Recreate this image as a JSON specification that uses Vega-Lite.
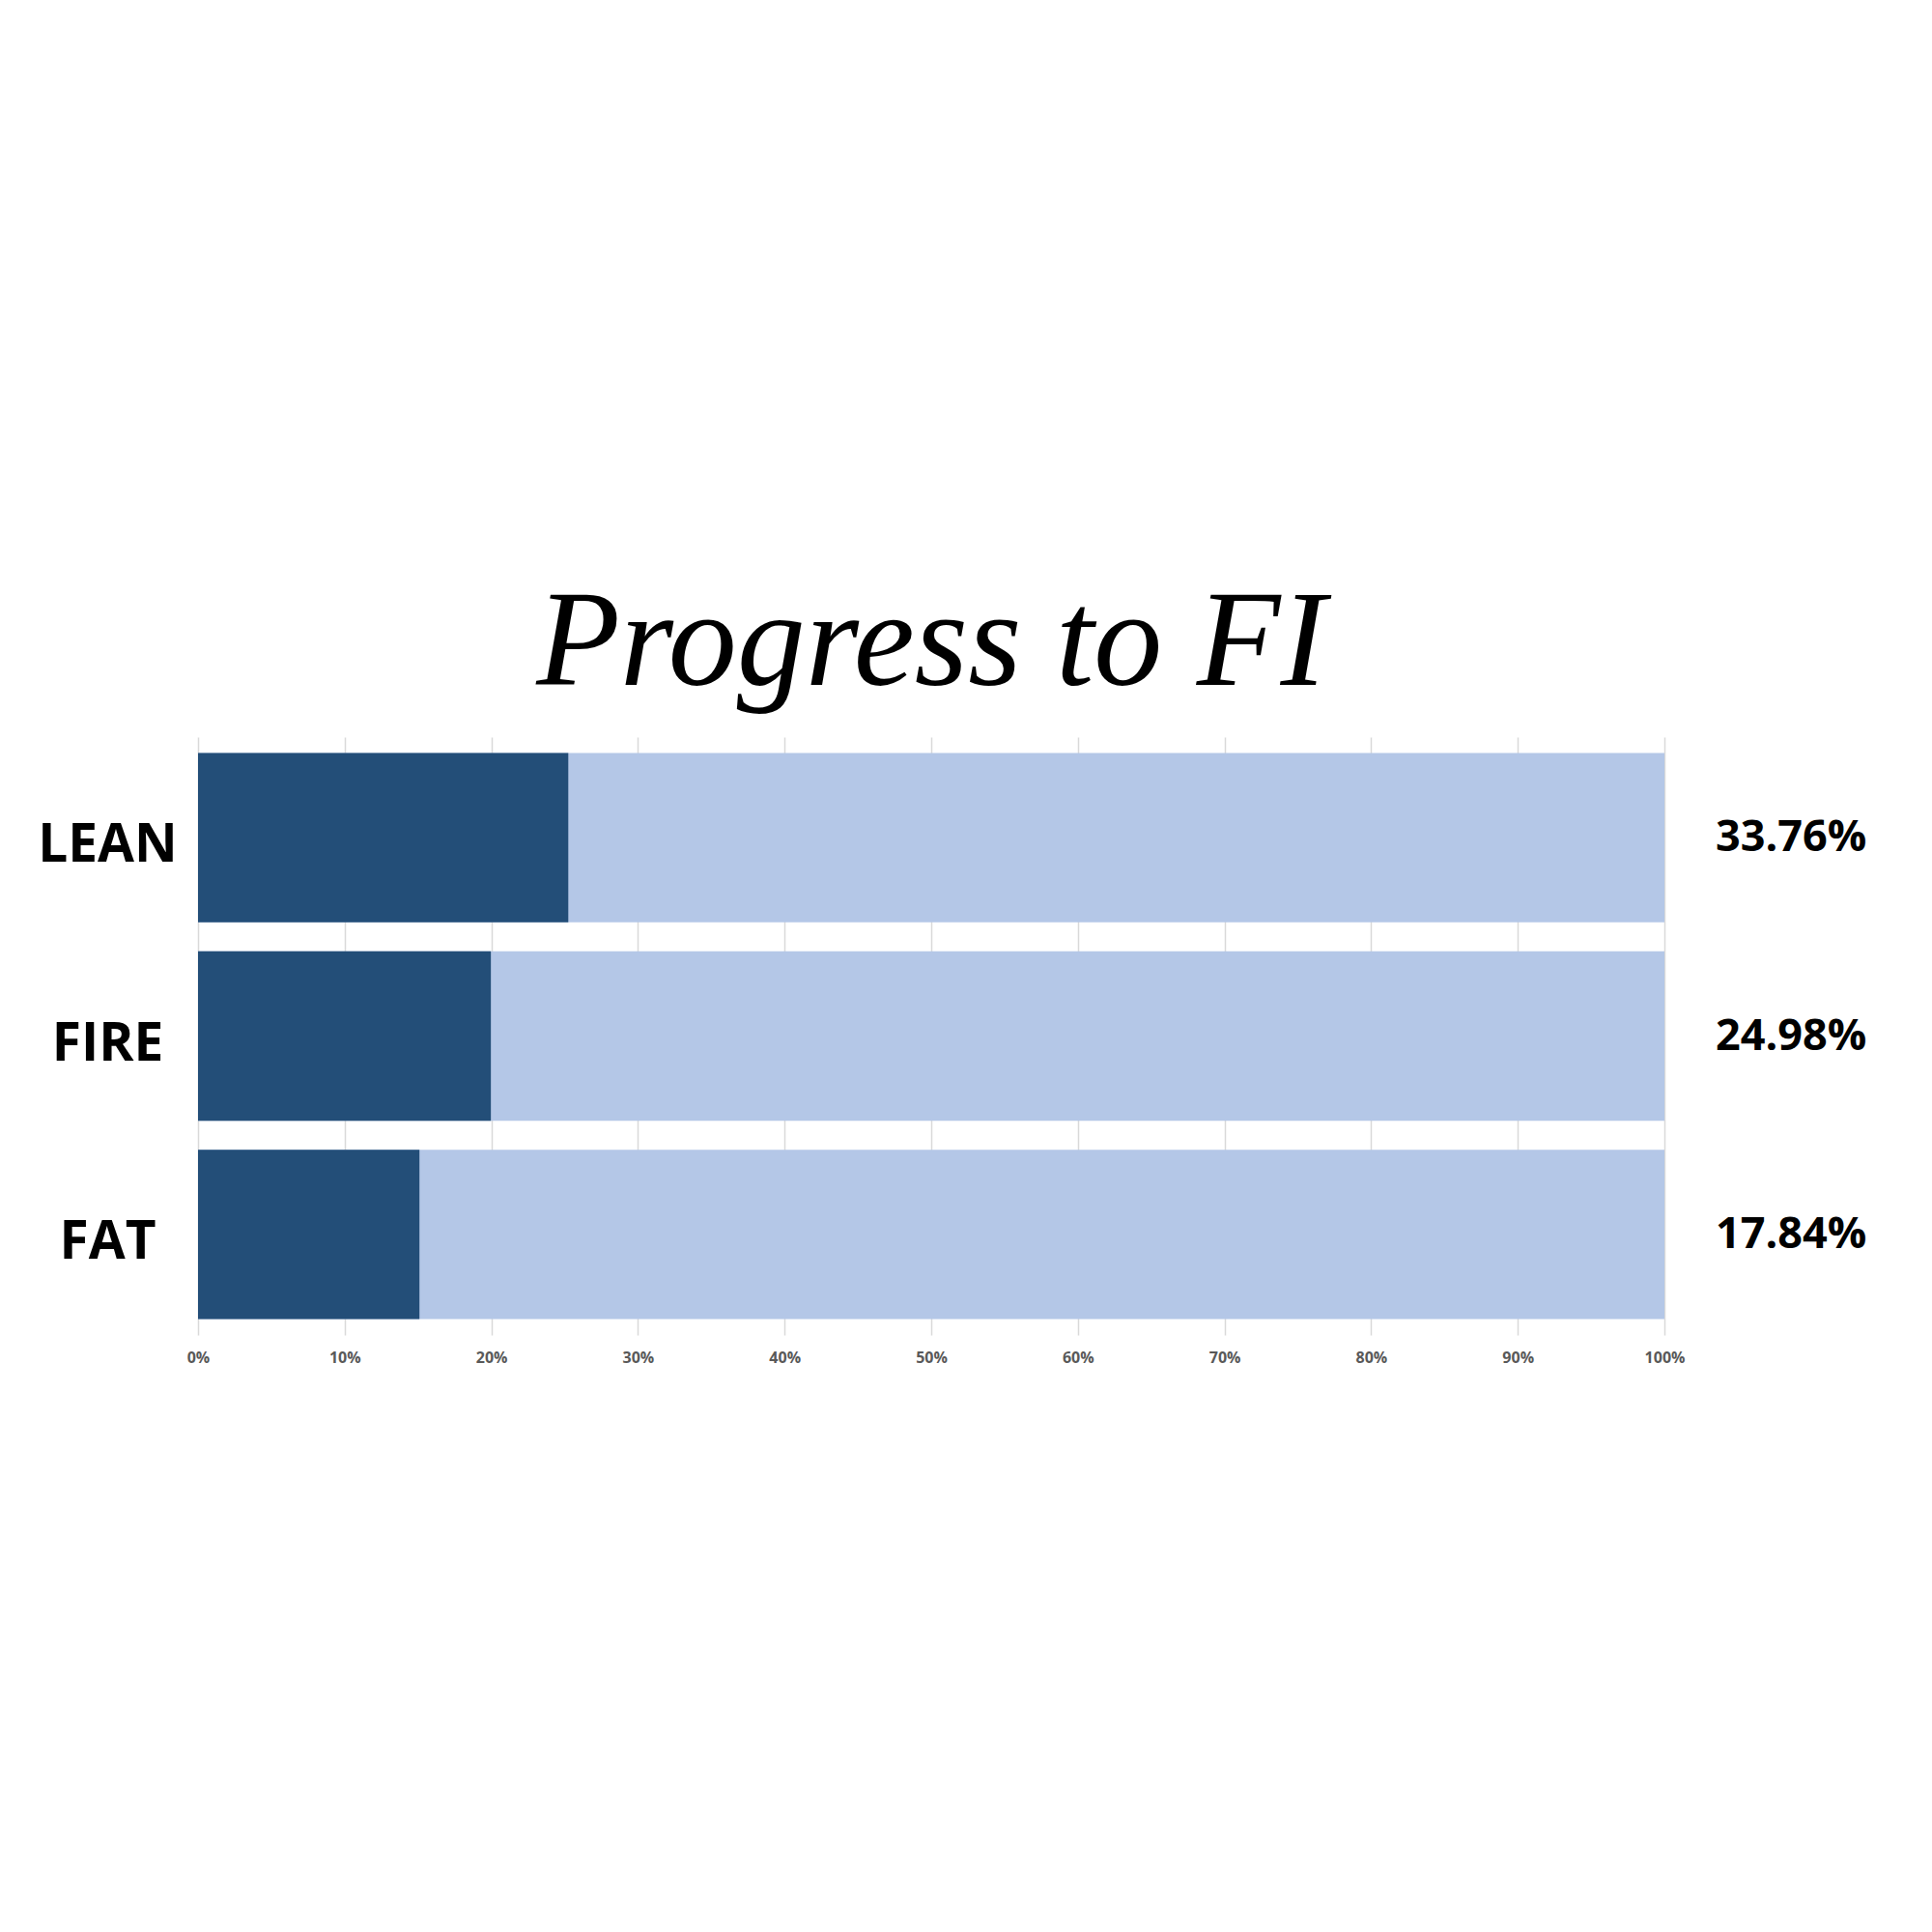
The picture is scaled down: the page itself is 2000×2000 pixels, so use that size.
{
  "$schema": "https://vega.github.io/schema/vega-lite/v6.json",
  "width": 1518,
  "height": 619,
  "autosize": {"type": "none"},
  "padding": {"left": 205, "top": 763, "right": 277, "bottom": 618},
  "background": "white",
  "config": {"view": {"stroke": null}},
  "title": {
    "text": "Progress to FI",
    "font": "Liberation Serif",
    "fontStyle": "italic",
    "fontWeight": "normal",
    "fontSize": 142,
    "color": "black",
    "anchor": "middle",
    "offset": 24
  },
  "data": {
    "values": [
      {"plan": "LEAN", "progress": 0.2525, "total": 1, "label": "33.76%"},
      {"plan": "FIRE", "progress": 0.1997, "total": 1, "label": "24.98%"},
      {"plan": "FAT", "progress": 0.151, "total": 1, "label": "17.84%"}
    ]
  },
  "encoding": {
    "y": {
      "field": "plan",
      "type": "nominal",
      "sort": ["LEAN", "FIRE", "FAT"],
      "scale": {"paddingInner": 0.146, "paddingOuter": 0.08},
      "axis": {
        "title": null,
        "domain": false,
        "ticks": false,
        "labelFont": "Open Sans",
        "labelFontWeight": "bold",
        "labelFontSize": 55,
        "labelColor": "black",
        "labelAlign": "center",
        "labelPadding": 94,
        "labelOffset": 8
      }
    }
  },
  "layer": [
    {
      "mark": {"type": "bar", "color": "#B4C7E7"},
      "encoding": {
        "x": {
          "field": "total",
          "type": "quantitative",
          "scale": {"domain": [0, 1], "nice": false},
          "axis": {
            "title": null,
            "format": ".0%",
            "values": [0, 0.1, 0.2, 0.3, 0.4, 0.5, 0.6, 0.7, 0.8, 0.9, 1],
            "domain": false,
            "ticks": false,
            "grid": true,
            "gridColor": "#d9d9d9",
            "gridWidth": 1.5,
            "labelFlush": false,
            "labelFont": "Open Sans",
            "labelFontWeight": "bold",
            "labelFontSize": 16,
            "labelColor": "#595959",
            "labelPadding": 15
          }
        }
      }
    },
    {
      "mark": {"type": "bar", "color": "#234E78"},
      "encoding": {
        "x": {"field": "progress", "type": "quantitative"}
      }
    },
    {
      "mark": {
        "type": "text",
        "align": "left",
        "baseline": "middle",
        "dx": 53,
        "font": "Open Sans",
        "fontWeight": "bold",
        "fontSize": 45,
        "color": "black"
      },
      "encoding": {
        "x": {"datum": 1, "type": "quantitative"},
        "text": {"field": "label"}
      }
    }
  ]
}
